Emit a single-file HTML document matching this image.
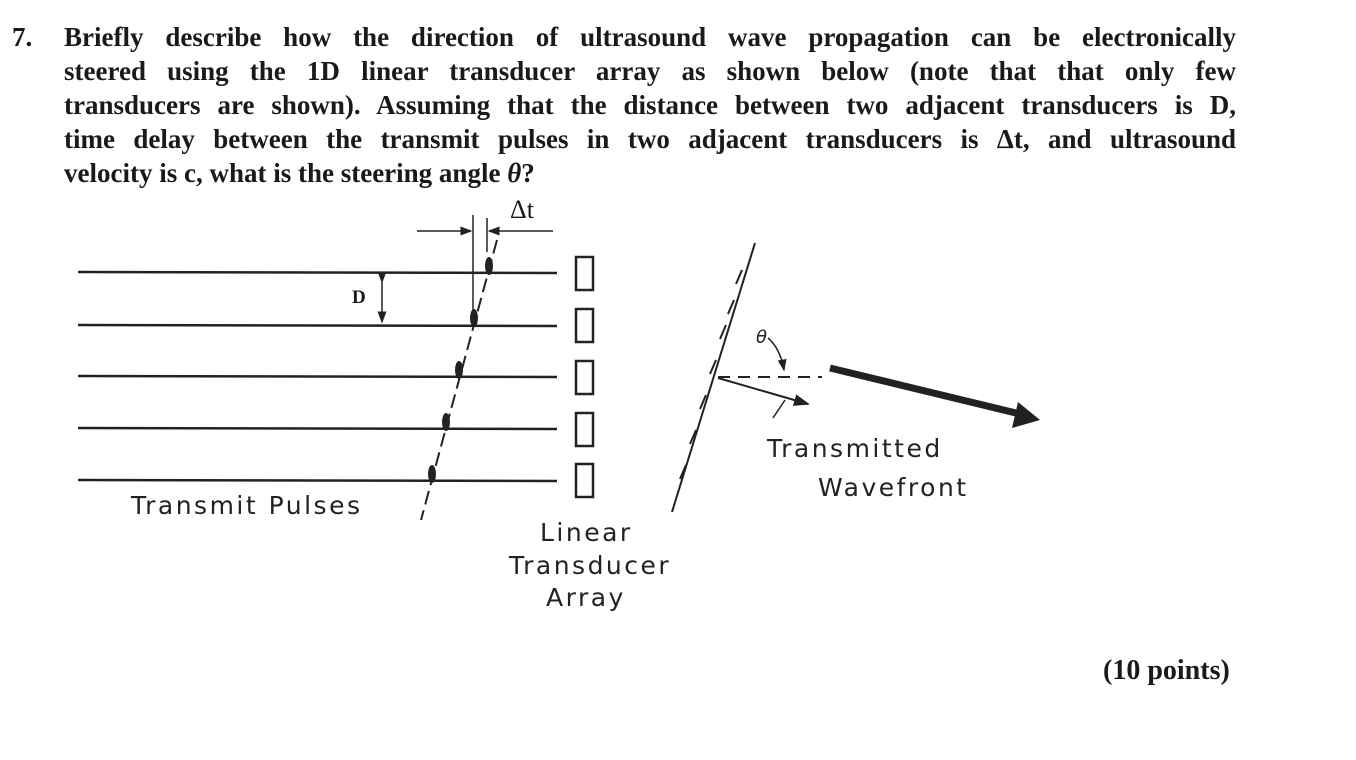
<!DOCTYPE html>
<html><head><style>
body{margin:0;width:1356px;height:760px;background:#fff;position:relative;overflow:hidden;font-family:"Liberation Serif",serif;color:#1a1a1a}
.q{position:absolute;left:64px;width:1172px;font-weight:bold;font-size:27px;line-height:34px;top:20px}
.q div{text-align:justify;text-align-last:justify;white-space:nowrap}
.q div.l{text-align-last:left}
.n{position:absolute;left:12px;top:20px;font-weight:bold;font-size:27px;line-height:34px}
.s{font-family:"DejaVu Sans","Liberation Sans",sans-serif;font-size:25px;position:absolute;color:#222;letter-spacing:2.5px}
</style></head><body>
<div class="n">7.</div>
<div class="q">
<div>Briefly describe how the direction of ultrasound wave propagation can be electronically</div>
<div>steered using the 1D linear transducer array as shown below (note that that only few</div>
<div>transducers are shown). Assuming that the distance between two adjacent transducers is D,</div>
<div>time delay between the transmit pulses in two adjacent transducers is Δt, and ultrasound</div>
<div class="l">velocity is c, what is the steering angle <i>θ</i>?</div>
</div>
<svg width="1356" height="760" style="position:absolute;left:0;top:0" stroke="#222" fill="none">
<defs><marker id="a" markerWidth="8" markerHeight="8" refX="7" refY="4" orient="auto"><path d="M0,1 L8,4 L0,7z" fill="#222" stroke="none"/></marker></defs>
<g stroke-width="2.5">
<line x1="78" y1="272" x2="557" y2="273"/>
<line x1="78" y1="325" x2="557" y2="326"/>
<line x1="78" y1="376" x2="557" y2="377"/>
<line x1="78" y1="428" x2="557" y2="429"/>
<line x1="78" y1="480" x2="557" y2="481"/>
</g>
<line x1="497" y1="240" x2="421" y2="520" stroke-width="2" stroke-dasharray="14,6"/>
<line x1="473" y1="215" x2="473" y2="326" stroke-width="1.5"/>
<line x1="487" y1="218" x2="487" y2="252" stroke-width="1.5"/>
<line x1="417" y1="231" x2="471" y2="231" stroke-width="1.5" marker-end="url(#a)"/>
<line x1="553" y1="231" x2="489" y2="231" stroke-width="1.5" marker-end="url(#a)"/>
<line x1="382" y1="282" x2="382" y2="322" stroke-width="1.5" marker-end="url(#a)" marker-start="url(#a)"/>
<g fill="#222" stroke="none">
<ellipse cx="489" cy="266" rx="4" ry="9"/><ellipse cx="474" cy="318" rx="4" ry="9"/><ellipse cx="459" cy="370" rx="4" ry="9"/><ellipse cx="446" cy="422" rx="4" ry="9"/><ellipse cx="432" cy="474" rx="4" ry="9"/>
</g>
<g stroke-width="2.5">
<rect x="576" y="257" width="17" height="33"/><rect x="576" y="309" width="17" height="33"/><rect x="576" y="361" width="17" height="33"/><rect x="576" y="413" width="17" height="33"/><rect x="576" y="464" width="17" height="33"/>
</g>
<line x1="755" y1="243" x2="672" y2="512" stroke-width="2"/>
<path d="M742 270 l-6 14 M734 300 l-6 14 M726 325 l-6 14 M716 360 l-6 14 M706 395 l-6 14 M696 430 l-6 14 M686 465 l-6 14" stroke-width="2"/>
<line x1="718" y1="377" x2="822" y2="377" stroke-width="2" stroke-dasharray="12,8"/>
<line x1="718" y1="378" x2="808" y2="404" stroke-width="2" marker-end="url(#a)"/>
<path d="M768 338 q12 10 16 32" stroke-width="1.5" marker-end="url(#a)"/>
<path d="M785 400 l-12 18" stroke-width="1.5"/>
<line x1="830" y1="368" x2="1020" y2="414" stroke-width="7"/>
<path d="M1040 420 L1012 428 L1018 402z" fill="#222" stroke="none"/>
</svg>
<div style="position:absolute;left:510px;top:195px;font-size:26px">Δt</div>
<div style="position:absolute;left:352px;top:287px;font-size:19px;font-weight:bold">D</div>
<div class="s" style="left:756px;top:327px;font-size:18px;font-style:italic">θ</div>
<div class="s" style="left:131px;top:491px">Transmit Pulses</div>
<div class="s" style="left:540px;top:518px">Linear</div>
<div class="s" style="left:509px;top:551px">Transducer</div>
<div class="s" style="left:546px;top:583px">Array</div>
<div class="s" style="left:767px;top:434px">Transmitted</div>
<div class="s" style="left:818px;top:473px">Wavefront</div>
<div style="position:absolute;left:1103px;top:655px;font-size:28px;font-weight:bold">(10 points)</div>
</body></html>
